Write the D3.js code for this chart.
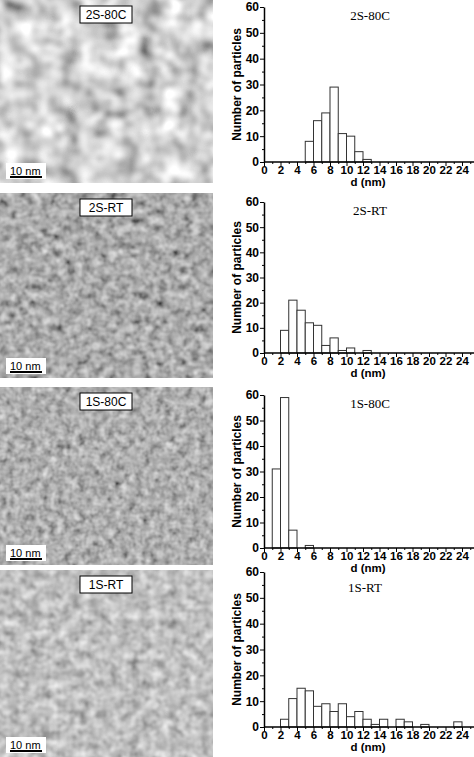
<!DOCTYPE html>
<html><head><meta charset="utf-8">
<script src="https://cdn.jsdelivr.net/npm/d3@7"></script>
<style>body{margin:0;background:#fff}svg{display:block}</style>
</head><body>
<script>
// bins start (nm), width 1 nm
const names = ["2S-80C", "2S-RT", "1S-80C", "1S-RT"];
const bins2S80C = [5, 6, 7, 8, 9, 10, 11, 12];
const counts2S80C = [8, 16, 19, 29, 11, 10, 4, 1];
const bins2SRT = [2, 3, 4, 5, 6, 7, 8, 9, 10, 12];
const counts2SRT = [9, 21, 17, 12, 11, 3, 6, 1, 2, 1];
const bins1S80C = [1, 2, 3, 5];
const counts1S80C = [31, 59, 7, 1];
const bins1SRT = [2, 3, 4, 5, 6, 7, 8, 9, 10, 11, 12, 13, 14, 16, 17, 19, 23];
const counts1SRT = [3, 11, 15, 14, 8, 9, 6, 9, 4, 6, 3, 1, 3, 3, 2, 1, 2];
const xTicks = d3.range(0, 25, 2);
const yTicks = [0, 10, 20, 30, 40, 50, 60];

const series = [
  {bins: bins2S80C, counts: counts2S80C},
  {bins: bins2SRT, counts: counts2SRT},
  {bins: bins1S80C, counts: counts1S80C},
  {bins: bins1SRT, counts: counts1SRT}
];
// y0 = pixel of 0, y60 = pixel of 60; image top/bottom; title baseline
const panels = [
  {y0: 162, y60: 7, imgTop: 0, imgBot: 183, tone: 165, slope: 2.2, freq: 0.05, ty: 20, tx: 370},
  {y0: 353, y60: 202, imgTop: 193, imgBot: 378, tone: 105, slope: 1.3, freq: 0.12, ty: 215, tx: 370},
  {y0: 548, y60: 395, imgTop: 387, imgBot: 565, tone: 110, slope: 1.3, freq: 0.14, ty: 408, tx: 370},
  {y0: 727, y60: 572, imgTop: 570, imgBot: 757, tone: 135, slope: 1.3, freq: 0.1, ty: 592, tx: 365}
];

const W = 474, H = 757;
const svg = d3.select("body").append("svg").attr("width", W).attr("height", H);
const defs = svg.append("defs");

const x = d3.scaleLinear().domain([0, 24]).range([264, 462]);

panels.forEach((p, i) => {
  // TEM-like micrograph placeholder
  const f = defs.append("filter").attr("id", "tex" + i).attr("x", 0).attr("y", 0).attr("width", 1).attr("height", 1);
  f.append("feTurbulence").attr("type", "fractalNoise").attr("baseFrequency", p.freq).attr("numOctaves", 2).attr("seed", i + 3);
  f.append("feColorMatrix").attr("type", "matrix")
    .attr("values", "0.33 0.33 0.33 0 0  0.33 0.33 0.33 0 0  0.33 0.33 0.33 0 0  0 0 0 0 1");
  f.append("feComponentTransfer").call(g => {
    const t = (p.tone / 255 - 0.5 * p.slope).toFixed(2);
    ["feFuncR", "feFuncG", "feFuncB"].forEach(c => g.append(c).attr("type", "linear").attr("slope", p.slope).attr("intercept", t));
  });
  svg.append("rect").attr("x", 0).attr("y", p.imgTop).attr("width", 213).attr("height", p.imgBot - p.imgTop)
    .attr("filter", `url(#tex${i})`);
  // label box
  const lw = 52;
  svg.append("rect").attr("x", 106 - lw / 2).attr("y", p.imgTop + 6).attr("width", lw).attr("height", 17)
    .attr("fill", "#fff").attr("stroke", "#000");
  svg.append("text").attr("x", 106).attr("y", p.imgTop + 19).attr("text-anchor", "middle")
    .attr("font-family", "Liberation Sans, Arial").attr("font-size", 12).text(names[i]);
  // scale bar
  svg.append("rect").attr("x", 6).attr("y", p.imgBot - 20).attr("width", 40).attr("height", 16).attr("fill", "#fff");
  svg.append("text").attr("x", 10).attr("y", p.imgBot - 8).attr("font-family", "Liberation Sans, Arial")
    .attr("font-size", 11).text("10 nm");
  svg.append("line").attr("x1", 10).attr("x2", 42).attr("y1", p.imgBot - 6).attr("y2", p.imgBot - 6)
    .attr("stroke", "#000").attr("stroke-width", 2);

  // histogram
  const y = d3.scaleLinear().domain([0, 60]).range([p.y0, p.y60]);
  const g = svg.append("g").attr("font-family", "Liberation Sans, Arial").attr("font-weight", "bold");
  const s = series[i];
  g.selectAll("rect.bar").data(s.bins.map((b, k) => ({b, c: s.counts[k]}))).join("rect")
    .attr("x", d => x(d.b)).attr("width", x(1) - x(0))
    .attr("y", d => y(d.c)).attr("height", d => y(0) - y(d.c))
    .attr("fill", "#fff").attr("stroke", "#333").attr("stroke-width", 1);

  g.append("g").attr("transform", `translate(0,${p.y0})`)
    .call(d3.axisBottom(x).tickValues(xTicks).tickSize(4).tickSizeOuter(0).tickPadding(0))
    .call(a => a.select(".domain").attr("d", `M264,0H474`).attr("stroke-width", 1.5))
    .call(a => a.selectAll("text").attr("font-size", 11.5).attr("font-weight", "bold").attr("font-family", "Liberation Sans, Arial"));
  g.append("g").attr("transform", `translate(0,${p.y0})`)
    .call(d3.axisBottom(x).tickValues(d3.range(1, 26, 2)).tickSize(2).tickFormat(""))
    .call(a => a.select(".domain").remove());
  g.append("g").attr("transform", "translate(264,0)")
    .call(d3.axisLeft(y).tickValues(yTicks).tickSize(4).tickSizeOuter(0).tickPadding(1))
    .call(a => a.select(".domain").attr("stroke-width", 1.5))
    .call(a => a.selectAll("text").attr("font-size", 12).attr("font-weight", "bold").attr("font-family", "Liberation Sans, Arial"));
  g.append("g").attr("transform", "translate(264,0)")
    .call(d3.axisLeft(y).tickValues(d3.range(5, 60, 10)).tickSize(2).tickFormat(""))
    .call(a => a.select(".domain").remove());

  g.append("text").attr("transform", `translate(241,${(p.y0 + p.y60) / 2}) rotate(-90)`)
    .attr("text-anchor", "middle").attr("font-size", 12).text("Number of particles");
  g.append("text").attr("x", 368).attr("y", p.y0 + 24).attr("text-anchor", "middle")
    .attr("font-size", 11.5).text("d (nm)");
  svg.append("text").attr("x", p.tx).attr("y", p.ty).attr("text-anchor", "middle")
    .attr("font-family", "Liberation Serif, Times New Roman").attr("font-size", 13).text(names[i]);
});
</script>
</body></html>
